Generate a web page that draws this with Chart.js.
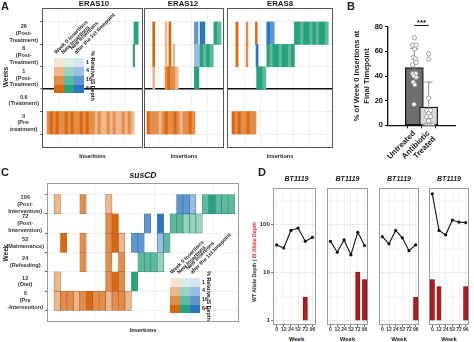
<!DOCTYPE html>
<html>
<head>
<meta charset="utf-8">
<script src="https://cdn.jsdelivr.net/npm/chart.js@4.4.1/dist/chart.umd.min.js"></script>
<style>
  body { margin: 0; width: 474px; height: 342px; position: relative; overflow: hidden; background: #fff;
         font-family: "Liberation Sans", Arial, sans-serif; font-weight: bold; color: #1a1a1a; }
  canvas { position: absolute; }
  .t { position: absolute; white-space: nowrap; line-height: 1.1; }
</style>
</head>
<body>
<script>
// ---------- data ----------
const typeRGB = { O: [217, 95, 2], G: [27, 158, 119], B: [31, 111, 191] };
const depthAlpha = { 1: 0.18, 4: 0.45, 16: 0.72, 64: 0.95 };
const depthLevels = [1, 4, 16, 64];
const legendHeads = [['Week 0 Insertions'], ['New Insertions'], ['New Insertions', 'after the 1st timepoint']];

// panel A: rows top -> bottom, cells are [row, start, end, type, depths]
const weeksA = [['26', '(Post-', 'Treatment)'], ['6', '(Post-', 'Treatment)'], ['1', '(Post-', 'Treatment)'],
                ['0.6', '(Treatment)'], ['0', '(Pre-', 'treatment)']];
const eras10Cells = [
  [4, 0, 29, 'O', [16,64,16,64,16,16,64,16,64,16,16,64,16,64,16,16,4,16,4,4,16,4,16,4,4,16,4,16,4]],
  [1, 28.7, 29.2, 'G', [64]],
  [0, 29.0, 30.4, 'G', [64]],
];
const eras12Cells = [
  [4, 0, 16, 'O', [64,16,16,16,4,16,64,16,16,64,16,4,16,16,64,16]],
  [0, 1.9, 2.6, 'O', [64]], [1, 1.9, 2.6, 'O', [64]], [2, 1.9, 2.6, 'O', [4]],
  [0, 6.0, 6.6, 'O', [4]], [1, 6.0, 6.6, 'O', [4]],
  [0, 7.3, 8.0, 'O', [64]], [1, 7.3, 8.0, 'O', [64]],
  [1, 8.7, 9.3, 'O', [4]],
  [2, 6.0, 10.4, 'O', [16, 64, 16, 16, 4]],
  [0, 15.8, 17.0, 'B', [16]], [0, 17.7, 19.3, 'B', [64]],
  [1, 15.8, 17.7, 'B', [4]],
  [1, 17.7, 22.1, 'G', [64, 16, 64, 16]],
  [2, 15.8, 17.3, 'G', [64]],
  [0, 22.3, 24.7, 'G', [64, 16]],
];
const eras8Cells = [
  [4, 0, 8, 'O', [64,16,64,16,16,64,16,16]],
  [0, 1.3, 2.0, 'O', [64]], [1, 1.3, 2.0, 'O', [64]],
  [0, 4.7, 5.3, 'O', [16]], [1, 4.7, 5.3, 'O', [16]],
  [0, 7.8, 8.4, 'O', [64]],
  [1, 8.0, 8.7, 'B', [64]],
  [0, 11.6, 14.1, 'B', [64, 16]],
  [1, 11.6, 20.8, 'G', [64,16,64,64,16,64,64,16,64]],
  [2, 8.2, 11.3, 'G', [64, 64, 16]],
  [0, 20.8, 32.1, 'G', [64,64,16,64,64,16,64,16,64,64,16]],
];

// panel B
const groupsB = ['Untreated', ['Antibiotic', 'Treated']];
const meanB = [46.8, 14.8];
const sdB = [15.4, 20.3];
const untreatedPts = [71, 65, 65, 62, 55, 54, 51, 49, 42, 42, 40, 39, 35, 33, 17];
const untreatedJit = [0, -0.12, 0.12, 0.02, -0.05, 0.07, 0.12, -0.12, -0.12, 0.1, -0.03, 0.14, -0.07, 0.03, -0.02];
const antibioticPts = [58, 53.5, 22, 12, 12, 9.5, 7, 7, 3.5, 0, 0, 0, 0, 0];
const antibioticJit = [0, 0, 0, -0.12, 0.12, 0, -0.12, 0.12, 0, -0.26, -0.12, 0.03, 0.17, 0.3];
const sigLevel = 81;

// panel C: runs are [row, first insertion, type, depths]
const weeksC = [['104', '(Post-', 'Intervention)'], ['72', '(Post-', 'Intervention)'], ['52', '(Maintenance)'],
                ['24', '(Refeeding)'], ['12', '(Diet)'], ['0', '(Pre', '-Intervention)']];
const susCDRuns = [
  [0, 0, 'O', [4]], [0, 4, 'O', [16]], [0, 8, 'O', [4]],
  [0, 19, 'B', [16, 16, 4]], [0, 23, 'G', [16, 64, 16, 16, 16]],
  [1, 8, 'O', [16, 64]], [1, 14, 'B', [16]], [1, 16, 'B', [64]], [1, 18, 'G', [16, 16, 4, 4, 4]],
  [2, 1, 'O', [64]], [2, 4, 'O', [16]], [2, 8, 'O', [16, 64, 4]], [2, 12, 'B', [16, 16]],
  [2, 16, 'B', [4]], [2, 17, 'G', [16]],
  [3, 4, 'O', [16]], [3, 8, 'O', [16]], [3, 10, 'O', [16]], [3, 13, 'G', [16, 16, 16, 4]],
  [4, 0, 'O', [4]], [4, 8, 'O', [16, 64, 16]], [4, 12, 'G', [64]],
  [5, 0, 'O', [4, 16, 16, 4, 16, 64, 16, 16, 4, 16, 16, 4]],
];

// panel D
const weeksD = ['0', '12', '24', '52', '72', '96'];
const wtDepth = [
  [37, 32, 74, 83, 44, 53],
  [44, 26, 47, 23, 68, 36],
  [55, 39, 74, 52, 28, 37],
  [430, 74, 60, 122, 111, 108],
];
const isDepth = [
  [null, null, null, null, 3, null],
  [null, null, null, null, 10, 7],
  [null, null, null, null, null, 3],
  [7, 5, null, null, null, 5],
];

// ---------- helpers ----------
Chart.defaults.font.family = '"Liberation Sans", Arial, sans-serif';
Chart.defaults.color = '#333';

function fillColor(type, depth) {
  const a = depthAlpha[depth];
  const c = typeRGB[type].map(v => Math.round(255 - (255 - v) * a));
  return `rgb(${c[0]},${c[1]},${c[2]})`;
}
function edgeColor(type) {
  const c = typeRGB[type].map(v => Math.round(v * 0.7));
  return `rgba(${c[0]},${c[1]},${c[2]},0.75)`;
}

const frame = {
  id: 'frame',
  afterDraw(chart, args, opts) {
    const a = chart.chartArea, ctx = chart.ctx;
    ctx.save();
    ctx.strokeStyle = opts.color || '#555';
    ctx.lineWidth = opts.width || 1;
    ctx.strokeRect(a.left + 0.5, a.top + 0.5, a.right - a.left - 1, a.bottom - a.top - 1);
    ctx.restore();
  }
};
Chart.register(frame);

function addCanvas(left, top, w, h) {
  const c = document.createElement('canvas');
  c.width = w; c.height = h;
  c.style.left = left + 'px'; c.style.top = top + 'px';
  c.style.width = w + 'px'; c.style.height = h + 'px';
  document.body.appendChild(c);
  return c;
}

function label(html, x, y, size, o = {}) {
  const d = document.createElement('div');
  d.className = 't';
  d.innerHTML = html;
  d.style.fontSize = size + 'px';
  d.style.left = x + 'px';
  d.style.top = y + 'px';
  const shift = o.left ? 'translate(0,-50%)' : 'translate(-50%,-50%)';
  d.style.transform = shift + (o.rot ? ` rotate(${o.rot}deg)` : '');
  if (o.style) Object.assign(d.style, o.style);
  document.body.appendChild(d);
}

function slanted(lines, x, y, size) {
  const d = document.createElement('div');
  d.className = 't';
  d.innerHTML = lines.join('<br>');
  d.style.fontSize = size + 'px';
  d.style.lineHeight = '1.15';
  d.style.left = x + 'px';
  d.style.bottom = (342 - y) + 'px';
  d.style.transformOrigin = '0 100%';
  d.style.transform = 'rotate(-45deg)';
  document.body.appendChild(d);
}

function legendGrid(left, top, cw, ch, fs) {
  ['O', 'G', 'B'].forEach((t, c) => depthLevels.forEach((dv, r) => {
    const cell = document.createElement('div');
    cell.style.cssText = `position:absolute;left:${left + c * cw}px;top:${top + r * ch}px;` +
      `width:${cw}px;height:${ch}px;background:${fillColor(t, dv)};`;
    document.body.appendChild(cell);
  }));
  depthLevels.forEach((dv, r) => label(String(dv), left + 3 * cw + 2, top + (r + 0.5) * ch, fs, { left: true }));
  label('% Relative IS Depth', left + 3 * cw + 8, top + 2 * ch, fs, { rot: 90 });
  const starts = [2.5, 9.5, 22.5];
  legendHeads.forEach((h, i) => slanted(h, left + starts[i], top - 3, fs));
}

function expandRuns(runs) {
  const out = [];
  runs.forEach(([row, x0, x1, type, depths]) => {
    const w = (x1 - x0) / depths.length;
    depths.forEach((dv, i) => out.push({ row, x0: x0 + i * w, x1: x0 + (i + 1) * w, type, depth: dv }));
  });
  return out;
}

function tileChart(canvas, cells, rows, o) {
  return new Chart(canvas, {
    type: 'bar',
    data: {
      datasets: [{
        data: cells.map(c => ({ x: [c.x0, c.x1], y: c.row })),
        backgroundColor: cells.map(c => fillColor(c.type, c.depth)),
        borderColor: o.edge ? cells.map(c => edgeColor(c.type)) : 'rgba(0,0,0,0)',
        borderWidth: o.edge ? 0.7 : 0,
        borderSkipped: false,
        grouped: false,
        barPercentage: 1,
        categoryPercentage: 1
      }]
    },
    options: {
      indexAxis: 'y',
      responsive: false,
      animation: false,
      layout: { padding: 0 },
      plugins: { legend: { display: false }, tooltip: { enabled: false }, frame: { color: o.frameColor } },
      scales: {
        x: {
          type: 'linear', min: o.xMin, max: o.xMax,
          afterBuildTicks: s => { s.ticks = o.xGrid.map(v => ({ value: v })); },
          ticks: { display: false },
          grid: { color: '#ebebeb', lineWidth: 0.7, drawTicks: false },
          border: { display: false },
          afterFit: s => { s.height = 0; s.paddingLeft = 0; s.paddingRight = 0; }
        },
        y: {
          type: 'linear', reverse: true, min: -0.5, max: rows.length - 0.5,
          afterBuildTicks: s => { s.ticks = rows.map((_, i) => ({ value: i })); },
          ticks: {
            display: o.axisW > 0,
            autoSkip: false,
            callback: (v, i) => rows[i],
            font: { size: 5.6, weight: 'bold', lineHeight: 1.22 },
            color: '#333', crossAlign: 'center', padding: 1
          },
          grid: {
            color: c => (o.blackRow === c.index ? '#111' : '#ebebeb'),
            lineWidth: c => (o.blackRow === c.index ? 1.5 : 0.8),
            drawTicks: o.axisW > 0, tickLength: 2, tickColor: '#333', tickWidth: 0.8
          },
          border: { display: false },
          afterFit: s => { s.width = o.axisW; s.paddingTop = 0; s.paddingBottom = 0; }
        }
      }
    }
  });
}

// ---------- panel A ----------
tileChart(addCanvas(0, 8, 143, 140), expandRuns(eras10Cells), weeksA,
  { axisW: 42, xMin: -1.67, xMax: 32, xGrid: [4.3, 10, 15.3, 21, 26.3], blackRow: 3, frameColor: '#555' });
tileChart(addCanvas(144, 8, 80, 140), expandRuns(eras12Cells), weeksA,
  { axisW: 0, xMin: -1, xMax: 25.67, xGrid: [3.7, 9.2, 14.7, 20.2], blackRow: 3, frameColor: '#555' });
tileChart(addCanvas(227, 8, 106, 140), expandRuns(eras8Cells), weeksA,
  { axisW: 0, xMin: -1.67, xMax: 33.67, xGrid: [4, 9.5, 15, 20.5, 26, 31.5], blackRow: 3, frameColor: '#555' });

label('A', 5, 6, 11);
label('ERAS10', 94, 4, 7.8);
label('ERAS12', 183, 4, 7.8);
label('ERAS8', 280, 4, 7.8);
label('Weeks', 6, 77, 6.5, { rot: -90 });
[92.5, 184, 280].forEach(x => label('Insertions', x, 156, 5.6));
legendGrid(54, 58.3, 10, 8.75, 5.3);

// ---------- panel B ----------
const errorBars = {
  id: 'errorBars',
  afterDatasetDraw(chart, args) {
    if (args.index !== 0) return;
    const { ctx, scales: { x, y } } = chart;
    ctx.save();
    ctx.strokeStyle = '#8c8c8c';
    ctx.lineWidth = 1;
    meanB.forEach((m, i) => {
      const px = x.getPixelForValue(i + 1);
      const top = y.getPixelForValue(m + sdB[i]);
      const bot = y.getPixelForValue(Math.max(0, m - sdB[i]));
      ctx.beginPath();
      ctx.moveTo(px, bot); ctx.lineTo(px, top);
      ctx.moveTo(px - 4, top); ctx.lineTo(px + 4, top);
      ctx.stroke();
    });
    const yS = y.getPixelForValue(sigLevel);
    const x1 = x.getPixelForValue(1), x2 = x.getPixelForValue(2);
    ctx.strokeStyle = '#111';
    ctx.beginPath(); ctx.moveTo(x1, yS); ctx.lineTo(x2, yS); ctx.stroke();
    ctx.fillStyle = '#111';
    ctx.font = 'bold 8px "Liberation Sans"';
    ctx.textAlign = 'center';
    ctx.textBaseline = 'bottom';
    ctx.fillText('***', (x1 + x2) / 2, yS + 1);
    ctx.restore();
  }
};

new Chart(addCanvas(345, 15, 115, 155), {
  type: 'bar',
  data: {
    datasets: [
      {
        type: 'bar',
        data: meanB.map((m, i) => ({ x: i + 1, y: m })),
        backgroundColor: ['#6e6e6e', '#d9d9d9'],
        borderColor: '#111', borderWidth: 1.2, borderSkipped: false, grouped: false,
        barThickness: 18, order: 2
      },
      {
        type: 'scatter',
        data: untreatedPts.map((v, i) => ({ x: 1 + untreatedJit[i], y: v }))
          .concat(antibioticPts.map((v, i) => ({ x: 2 + antibioticJit[i], y: v }))),
        pointRadius: 2.2, pointBackgroundColor: '#fff', pointBorderColor: '#8a8a8a', pointBorderWidth: 0.8,
        order: 1
      }
    ]
  },
  options: {
    responsive: false, animation: false,
    layout: { padding: { top: 11.7, right: 5 } },
    plugins: { legend: { display: false }, tooltip: { enabled: false }, frame: false },
    scales: {
      x: {
        type: 'linear', min: 0.329, max: 2.672,
        afterBuildTicks: s => { s.ticks = [{ value: 1 }, { value: 2 }]; },
        ticks: { callback: (v, i) => groupsB[i], minRotation: 45, maxRotation: 45, color: '#111',
                 font: { size: 7.8, weight: 'bold', lineHeight: 1.05 }, padding: 1 },
        grid: { drawOnChartArea: false, color: '#111', tickLength: 3 },
        border: { display: true, color: '#111', width: 1.3 },
        afterFit: s => { s.height = 44.7; s.paddingLeft = 0; s.paddingRight = 0; }
      },
      y: {
        type: 'linear', min: 0, max: 80,
        ticks: { stepSize: 20, color: '#111', font: { size: 7.5, weight: 'bold' }, padding: 2 },
        grid: { drawOnChartArea: false, color: '#111', tickLength: 3 },
        border: { display: true, color: '#111', width: 1.3 },
        afterFit: s => { s.width = 43; s.paddingTop = 0; s.paddingBottom = 0; }
      }
    }
  },
  plugins: [errorBars]
});
label('B', 351, 6, 11);
label('% of Week 0 Insertions at<br>Final Timepoint', 362, 76, 7.5, { rot: -90, style: { textAlign: 'center', lineHeight: '1.3' } });

// ---------- panel C ----------
const susCDCells = [];
susCDRuns.forEach(([row, start, type, depths]) =>
  depths.forEach((dv, i) => susCDCells.push({ row, x0: start + i, x1: start + i + 1, type, depth: dv })));
tileChart(addCanvas(0, 183, 239, 139), susCDCells, weeksC,
  { axisW: 47, xMin: -1.085, xMax: 28.68, xGrid: [6.3, 15.6, 24.8], blackRow: -1, frameColor: '#9a9a9a', edge: true });
label('C', 5, 172, 11);
label('<i>susCD</i>', 143, 176, 8.5);
label('Week', 6, 253, 6.5, { rot: -90 });
label('Insertions', 143, 330, 5.6);
legendGrid(170, 278.3, 10, 8.75, 5.3);

// ---------- panel D ----------
function depthChart(canvas, wt, is, axisW) {
  return new Chart(canvas, {
    type: 'bar',
    data: {
      labels: weeksD,
      datasets: [
        { type: 'line', data: wt, borderColor: '#111', borderWidth: 1.1, pointRadius: 1.6,
          pointBackgroundColor: '#111', pointBorderWidth: 0, tension: 0, order: 0 },
        { type: 'bar', data: is.map(v => (v == null ? null : [1, v])), backgroundColor: '#b31b1b',
          borderColor: '#7a1010', borderWidth: 0.6, borderSkipped: false, grouped: false,
          barThickness: 4.3, order: 1 }
      ]
    },
    options: {
      responsive: false, animation: false,
      layout: { padding: 0 },
      plugins: { legend: { display: false }, tooltip: { enabled: false }, frame: { color: '#9a9a9a' } },
      scales: {
        x: {
          type: 'category', offset: true,
          ticks: { font: { size: 5, weight: 'bold' }, color: '#333', padding: 0, maxRotation: 0, autoSkip: false },
          grid: { offset: false, color: '#ebebeb', lineWidth: 0.7, tickLength: 2, tickColor: '#333' },
          border: { display: false },
          afterFit: s => { s.height = 10; s.paddingLeft = 0; s.paddingRight = 0; }
        },
        y: {
          type: 'logarithmic', min: 0.79, max: 569,
          afterBuildTicks: s => { s.ticks = [1, 3.16, 10, 31.6, 100, 316].map(v => ({ value: v })); },
          ticks: { display: axisW > 0, autoSkip: false, callback: v => ([1, 10, 100].includes(v) ? String(v) : ''),
                   font: { size: 6.2, weight: 'bold' }, color: '#333', padding: 1 },
          grid: {
            color: c => ([1, 10, 100].includes(c.tick.value) ? '#e4e4e4' : '#f3f3f3'),
            lineWidth: 0.7, drawTicks: axisW > 0, tickLength: 2,
            tickColor: c => ([1, 10, 100].includes(c.tick.value) ? '#333' : 'rgba(0,0,0,0)')
          },
          border: { display: false },
          afterFit: s => { s.width = axisW; s.paddingTop = 0; s.paddingBottom = 0; }
        }
      }
    }
  });
}

const facetsD = [[245, 75, 28], [323, 49, 0], [375, 48, 0], [425, 48, 0]];
facetsD.forEach(([left, w, axisW], i) => {
  depthChart(addCanvas(left, 184, w, 151), wtDepth[i], isDepth[i], axisW);
  const cx = left + axisW + (w - axisW) / 2;
  label('<i>BT1119</i>', cx, 179, 7);
  label('Week', cx, 338.5, 6);
});
label('D', 262, 172, 11);
label('WT Allele Depth | <span style="color:#d7191c">IS Allele Depth</span>', 255, 262, 5.2, { rot: -90 });
</script>
</body>
</html>
